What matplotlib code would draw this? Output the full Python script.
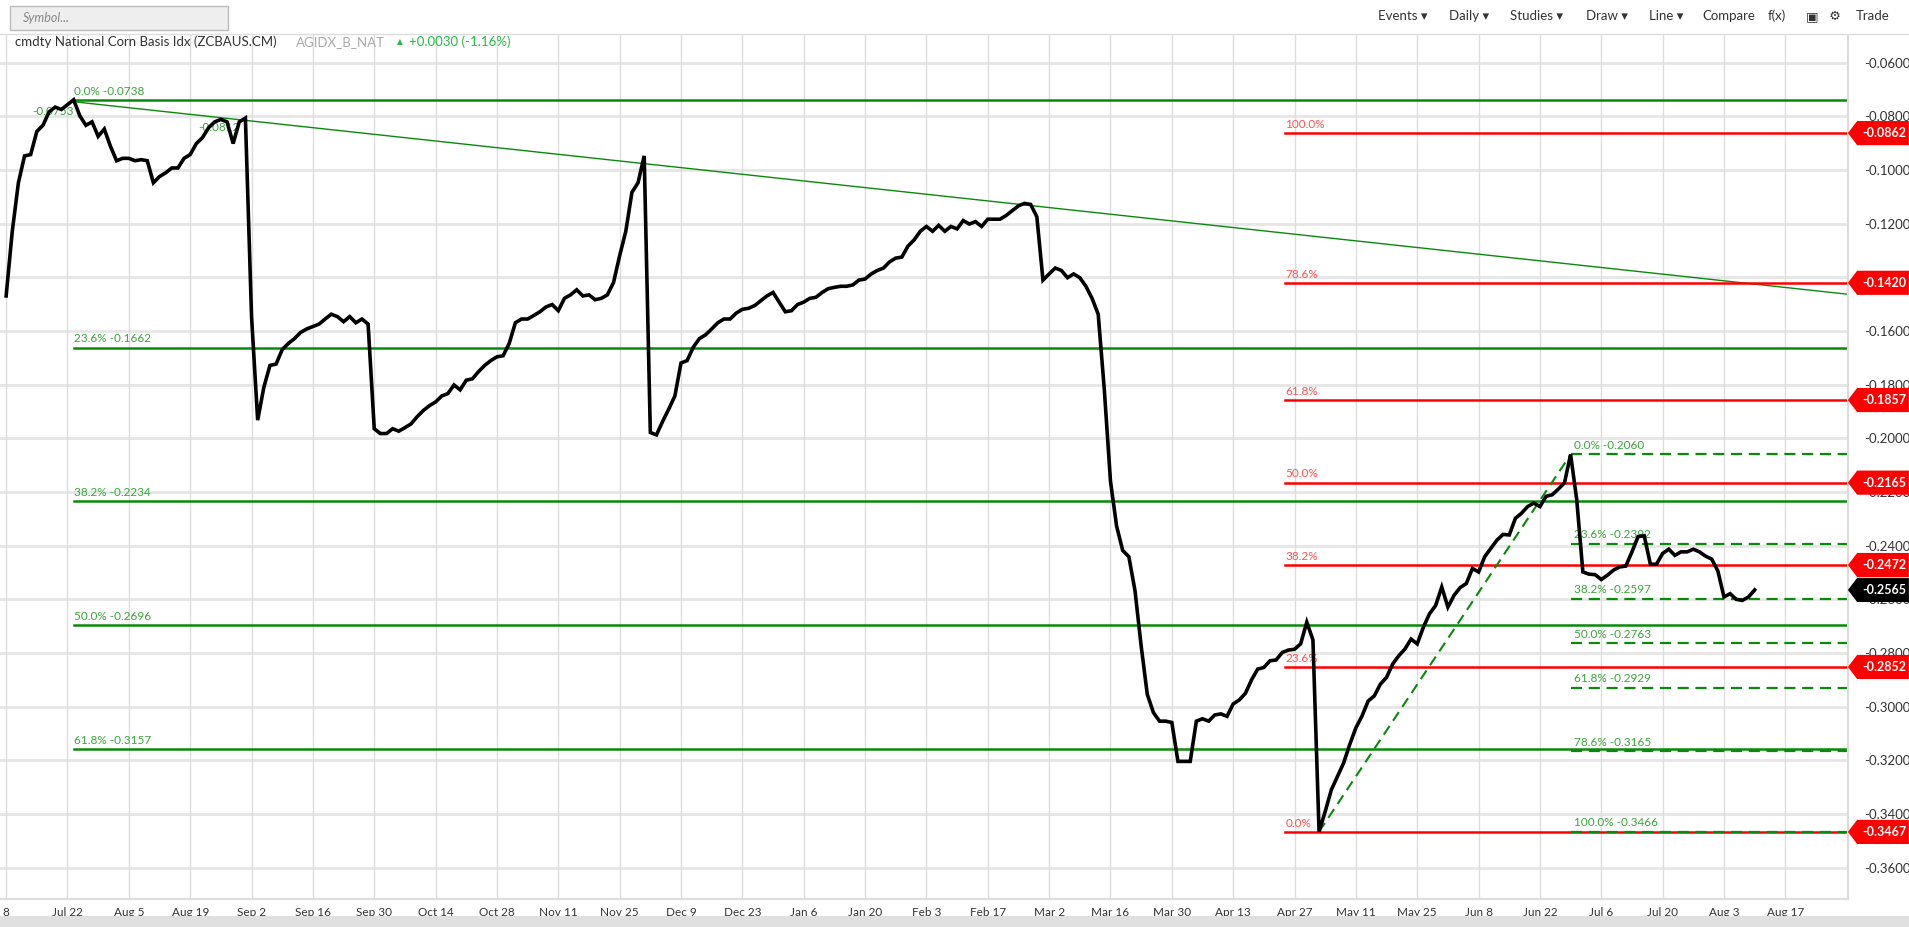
import matplotlib
matplotlib.use("Agg")
import matplotlib.pyplot as plt
from matplotlib.patches import Rectangle, Polygon
import numpy as np

plt.rcParams['font.family'] = ['Lato', 'DejaVu Sans']

# ---- data ----
basis = [
 -0.1469,-0.1228,-0.1047,-0.0947,-0.0942,-0.0856,-0.0833,-0.0783,-0.0765,-0.0774,
 -0.0756,-0.0738,-0.0797,-0.0833,-0.0820,-0.0874,-0.0847,-0.0911,-0.0965,-0.0956,
 -0.0956,-0.0965,-0.0961,-0.0965,-0.1047,-0.1024,-0.1010,-0.0992,-0.0992,-0.0956,
 -0.0942,-0.0901,-0.0879,-0.0842,-0.0820,-0.0811,-0.0820,-0.0901,-0.0820,-0.0806,
 -0.1546,-0.1932,-0.1810,-0.1728,-0.1723,-0.1669,-0.1646,-0.1628,-0.1605,-0.1592,
 -0.1583,-0.1574,-0.1555,-0.1537,-0.1546,-0.1565,-0.1546,-0.1569,-0.1555,-0.1574,
 -0.1964,-0.1982,-0.1982,-0.1964,-0.1973,-0.1960,-0.1946,-0.1919,-0.1896,-0.1878,
 -0.1864,-0.1842,-0.1833,-0.1801,-0.1819,-0.1783,-0.1778,-0.1751,-0.1728,-0.1710,
 -0.1696,-0.1692,-0.1646,-0.1569,-0.1555,-0.1555,-0.1542,-0.1528,-0.1510,-0.1501,
 -0.1524,-0.1478,-0.1465,-0.1446,-0.1469,-0.1465,-0.1483,-0.1478,-0.1465,-0.1419,
 -0.1319,-0.1228,-0.1083,-0.1047,-0.0947,-0.1978,-0.1987,-0.1937,-0.1891,-0.1842,
 -0.1719,-0.1710,-0.1660,-0.1628,-0.1614,-0.1592,-0.1569,-0.1555,-0.1555,-0.1533,
 -0.1519,-0.1515,-0.1505,-0.1487,-0.1469,-0.1456,-0.1492,-0.1528,-0.1524,-0.1501,
 -0.1492,-0.1478,-0.1474,-0.1456,-0.1442,-0.1437,-0.1433,-0.1433,-0.1428,-0.1410,
 -0.1406,-0.1387,-0.1374,-0.1365,-0.1342,-0.1328,-0.1324,-0.1283,-0.1260,-0.1228,
 -0.1210,-0.1228,-0.1206,-0.1228,-0.1210,-0.1219,-0.1188,-0.1201,-0.1192,-0.1210,
 -0.1183,-0.1183,-0.1183,-0.1169,-0.1151,-0.1133,-0.1124,-0.1128,-0.1174,-0.1410,
 -0.1387,-0.1365,-0.1374,-0.1401,-0.1387,-0.1401,-0.1433,-0.1478,-0.1537,-0.1819,
 -0.2159,-0.2327,-0.2418,-0.2441,-0.2568,-0.2773,-0.2954,-0.3022,-0.3054,-0.3054,
 -0.3059,-0.3204,-0.3204,-0.3204,-0.3054,-0.3045,-0.3054,-0.3031,-0.3027,-0.3036,
 -0.2990,-0.2975,-0.2950,-0.2900,-0.2860,-0.2854,-0.2829,-0.2826,-0.2798,-0.2789,
 -0.2786,-0.2766,-0.2685,-0.2751,-0.3466,-0.3391,-0.3310,-0.3260,-0.3210,-0.3141,
 -0.3079,-0.3035,-0.2979,-0.2960,-0.2916,-0.2891,-0.2841,-0.2810,-0.2785,-0.2748,
 -0.2766,-0.2704,-0.2654,-0.2623,-0.2554,-0.2629,-0.2585,-0.2556,-0.2541,-0.2485,
 -0.2498,-0.2441,-0.2410,-0.2379,-0.2358,-0.2360,-0.2298,-0.2279,-0.2254,-0.2241,
 -0.2254,-0.2216,-0.2210,-0.2189,-0.2166,-0.2060,-0.2229,-0.2498,-0.2506,-0.2508,
 -0.2526,-0.2510,-0.2491,-0.2479,-0.2476,-0.2423,-0.2366,-0.2363,-0.2469,-0.2469,
 -0.2429,-0.2413,-0.2436,-0.2423,-0.2423,-0.2413,-0.2423,-0.2439,-0.2450,-0.2494,
 -0.2591,-0.2579,-0.2600,-0.2604,-0.2591,-0.2565]
days = list(range(len(basis)))

tick_labels = ["8","Jul 22","Aug 5","Aug 19","Sep 2","Sep 16","Sep 30","Oct 14","Oct 28",
               "Nov 11","Nov 25","Dec 9","Dec 23","Jan 6","Jan 20","Feb 3","Feb 17","Mar 2",
               "Mar 16","Mar 30","Apr 13","Apr 27","May 11","May 25","Jun 8","Jun 22","Jul 6",
               "Jul 20","Aug 3","Aug 17"]
tick_days = [10 * i for i in range(len(tick_labels))]

fib1_pct = ["0.0%", "23.6%", "38.2%", "50.0%", "61.8%"]
fib1_val = [-0.0738, -0.1662, -0.2234, -0.2696, -0.3157]
fib1_start = 11

fib2_pct = ["100.0%", "78.6%", "61.8%", "50.0%", "38.2%", "23.6%", "0.0%"]
fib2_val = [-0.0862, -0.1420, -0.1857, -0.2165, -0.2472, -0.2852, -0.3467]
fib2_start = 208.5

fib3_pct = ["0.0%", "23.6%", "38.2%", "50.0%", "61.8%", "78.6%", "100.0%"]
fib3_val = [-0.2060, -0.2392, -0.2597, -0.2763, -0.2929, -0.3165, -0.3466]
fib3_start = 255
fib3_anchor_days = [214, 255]
fib3_anchor_vals = [-0.3466, -0.2060]

trend_days = [11, 283]
trend_vals = [-0.0745, -0.1420]
trend_labels = [(11, -0.0753, "-0.0753"), (38, -0.0812, "-0.0812")]

last_price = -0.2565
y_ticks = [-0.06 - 0.02 * i for i in range(16)]

# ---- figure ----
W, H = 1909, 927
fig = plt.figure(figsize=(W / 100, H / 100), dpi=100)
fig.patch.set_facecolor("white")
XMIN, XMAX = -1, 300.2
YMIN, YMAX = -0.3717, -0.0493
ax = fig.add_axes([0.0, 0.0302, 0.968, 0.9330])
ax.set_xlim(XMIN, XMAX)
ax.set_ylim(YMIN, YMAX)
ax.set_facecolor("white")
for s in ["top", "left"]:
    ax.spines[s].set_visible(False)
ax.spines["right"].set_color("#dcdcdc")
ax.spines["bottom"].set_color("#dcdcdc")
ax.spines["right"].set_linewidth(1.5)
ax.spines["bottom"].set_linewidth(1.5)

for yv in y_ticks:
    ax.axhline(yv, color="#e6e6e6", lw=2, zorder=0)
for d in tick_days:
    ax.axvline(d, color="#dddddd", lw=1, zorder=0)

ax.yaxis.tick_right()
ax.set_yticks(y_ticks)
ax.set_yticklabels(["%.4f" % v for v in y_ticks], fontsize=9.5, color="#333333")
ax.tick_params(axis="y", length=0, pad=12)
ax.set_xticks(tick_days)
ax.set_xticklabels(tick_labels, fontsize=8.5, color="#333333")
ax.tick_params(axis="x", length=0, pad=6)

green = "#0a8a0a"
red = "#ff0000"
for p, v in zip(fib1_pct, fib1_val):
    ax.plot([fib1_start, XMAX], [v, v], color=green, lw=1.8, zorder=2)
    ax.text(fib1_start, v + 0.0012, "%s %.4f" % (p, v), color="#3aa53a", fontsize=8.5, va="bottom")
tslope = (trend_vals[1] - trend_vals[0]) / (trend_days[1] - trend_days[0])
ax.plot([trend_days[0], XMAX], [trend_vals[0], trend_vals[0] + tslope * (XMAX - trend_days[0])],
        color=green, lw=1, zorder=2)
for d, v, t in trend_labels:
    ax.text(d, v - 0.0008, t, color="#3aa53a", fontsize=8.5, ha="right", va="top")
for p, v in zip(fib2_pct, fib2_val):
    ax.plot([fib2_start, XMAX], [v, v], color=red, lw=1.8, zorder=2)
    ax.text(fib2_start, v + 0.0012, p, color="#ff5050", fontsize=8.5, va="bottom")
for p, v in zip(fib3_pct, fib3_val):
    ax.plot([fib3_start, XMAX], [v, v], color=green, lw=1.6, ls=(0, (5, 3)), zorder=2)
    ax.text(fib3_start + 0.5, v + 0.0012, "%s %.4f" % (p, v), color="#3aa53a", fontsize=8.5, va="bottom")
ax.plot(fib3_anchor_days, fib3_anchor_vals, color=green, lw=1.5, ls=(0, (5, 3)), zorder=2)

ax.plot(days, basis, color="black", lw=2.6, zorder=4, solid_joinstyle="miter")

def tag(v, color):
    tr = ax.get_yaxis_transform()
    h = 0.0045
    ax.add_patch(Polygon([(1.0, v), (1.005, v + h), (1.033, v + h), (1.033, v - h),
                          (1.005, v - h)], closed=True, transform=tr, facecolor=color,
                         edgecolor="none", clip_on=False, zorder=6))
    ax.text(1.0195, v, "%.4f" % v, transform=tr, ha="center", va="center", color="white",
            fontsize=9, fontweight="bold", zorder=7, clip_on=False)
for v in fib2_val:
    tag(v, red)
tag(last_price, "black")

fig.text(0.008, 0.955, "cmdty National Corn Basis Idx (ZCBAUS.CM)", fontsize=9.5, color="#333333", va="center")
fig.text(0.155, 0.955, "AGIDX_B_NAT", fontsize=9.5, color="#aaaaaa", va="center")
fig.text(0.208, 0.955, "\u25B2", fontsize=5.5, color="#22bb44", va="center", family="DejaVu Sans")
fig.text(0.214, 0.955, "+0.0030 (-1.16%)", fontsize=9.5, color="#22bb44", va="center")

fig.add_artist(Rectangle((0, 0.963), 1, 0.037, transform=fig.transFigure, facecolor="white",
                         edgecolor="none", zorder=10))
fig.add_artist(plt.Line2D([0, 1], [0.963, 0.963], transform=fig.transFigure, color="#dddddd", lw=1, zorder=11))
fig.add_artist(Rectangle((0.0055, 0.968), 0.114, 0.025, transform=fig.transFigure, facecolor="#eeeeee",
                         edgecolor="#bbbbbb", lw=1, zorder=11))
fig.text(0.012, 0.981, "Symbol...", fontsize=9, color="#888888", style="italic", va="center", zorder=12)
items = [("Events \u25BE", 0.722), ("Daily \u25BE", 0.759), ("Studies \u25BE", 0.791),
         ("Draw \u25BE", 0.831), ("Line \u25BE", 0.864), ("Compare", 0.892), ("f(x)", 0.926),
         ("\u25A3", 0.946), ("\u2699", 0.958), ("Trade", 0.972)]
for t, x in items:
    fig.text(x, 0.983, t, fontsize=9.5, color="#333333", va="center", zorder=12,
             family=["Lato", "DejaVu Sans"])
fig.add_artist(Rectangle((0, 0), 1, 0.012, transform=fig.transFigure, facecolor="#e0e0e0",
                         edgecolor="none", zorder=10))

fig.savefig("out.png", dpi=100)
